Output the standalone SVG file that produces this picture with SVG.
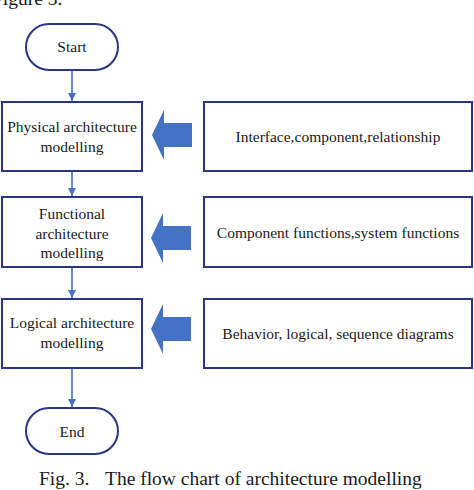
<svg xmlns="http://www.w3.org/2000/svg" width="474" height="490" viewBox="0 0 474 490">
<style>
.box{fill:#fff;stroke:#2B3585;stroke-width:2}
.t{font-family:"Liberation Serif","Times New Roman",serif;font-size:15.5px;fill:#1a1a1a;text-anchor:middle}
.cap{font-family:"Liberation Serif","Times New Roman",serif;font-size:19.5px;fill:#1a1a1a}
.ln{stroke:#4472C4;stroke-width:1.6;fill:none;marker-end:url(#ah)}
.blk{fill:#4472C4}
</style>
<defs>
<marker id="ah" viewBox="0 0 10 10" refX="10" refY="5" markerWidth="8" markerHeight="8" markerUnits="userSpaceOnUse" orient="auto">
<path d="M0,0 L10,5 L0,10 Z" fill="#4472C4"/>
</marker>
<path id="bigarrow" d="M0,0 L12,-25 L12,-12 L40,-12 L40,12 L12,12 L12,25 Z"/>
</defs>
<rect width="474" height="490" fill="#fff"/>
<text class="cap" x="-8" y="5">Figure 3.</text>

<g id="start">
<rect class="box" x="26" y="24" width="92" height="46" rx="23" ry="23"/>
<text class="t" x="72" y="52">Start</text>
</g>
<g id="physical">
<rect class="box" x="2" y="102" width="140" height="69"/>
<text class="t" x="72" y="132">Physical architecture</text>
<text class="t" x="72" y="152">modelling</text>
</g>
<g id="functional">
<rect class="box" x="2" y="197" width="140" height="70"/>
<text class="t" x="72" y="219">Functional</text>
<text class="t" x="72" y="238.5">architecture</text>
<text class="t" x="72" y="258">modelling</text>
</g>
<g id="logical">
<rect class="box" x="2" y="299" width="140" height="69"/>
<text class="t" x="72" y="328">Logical architecture</text>
<text class="t" x="72" y="348">modelling</text>
</g>
<g id="end">
<rect class="box" x="26" y="408" width="92" height="46" rx="23" ry="23"/>
<text class="t" x="72" y="437">End</text>
</g>
<g id="input1">
<rect class="box" x="204" y="102" width="268" height="69"/>
<text class="t" x="338" y="142">Interface,component,relationship</text>
</g>
<g id="input2">
<rect class="box" x="204" y="197" width="268" height="70"/>
<text class="t" x="338" y="237.5">Component functions,system functions</text>
</g>
<g id="input3">
<rect class="box" x="204" y="299" width="268" height="69"/>
<text class="t" x="338" y="339">Behavior, logical, sequence diagrams</text>
</g>

<g id="connectors">
<line class="ln" x1="72" y1="71" x2="72" y2="101"/>
<line class="ln" x1="72" y1="172" x2="72" y2="196"/>
<line class="ln" x1="72" y1="268" x2="72" y2="298"/>
<line class="ln" x1="72" y1="369" x2="72" y2="407"/>
<use href="#bigarrow" class="blk" transform="translate(152,135)"/>
<use href="#bigarrow" class="blk" transform="translate(151,238)"/>
<use href="#bigarrow" class="blk" transform="translate(151,329)"/>
</g>

<text class="cap" y="485"><tspan x="39">Fig. 3.</tspan><tspan x="105">The flow chart of architecture modelling</tspan></text>
</svg>
